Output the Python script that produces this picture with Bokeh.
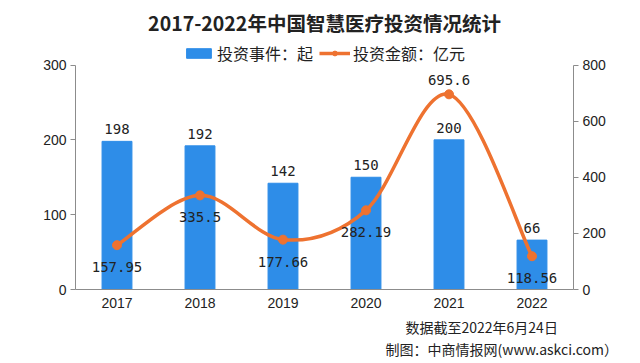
from bokeh.plotting import figure
from bokeh.models import (FactorRange, Range1d, LinearAxis, ColumnDataSource,
                          Legend, LegendItem, Title, FixedTicker)
from bokeh.core.properties import value
from bokeh.embed import file_html
from bokeh.resources import INLINE

# ---------------- data ----------------
years = ["2017", "2018", "2019", "2020", "2021", "2022"]
deals = [198, 192, 142, 150, 200, 66]
amounts = [157.95, 335.5, 177.66, 282.19, 695.6, 118.56]
amount_labels = ["157.95", "335.5", "177.66", "282.19", "695.6", "118.56"]
left_ticks = [0, 100, 200, 300]
right_ticks = [0, 200, 400, 600, 800]

title_text = "2017-2022年中国智慧医疗投资情况统计"
deal_name = "投资事件：起"
amount_name = "投资金额：亿元"
note1 = "数据截至2022年6月24日"
note2 = "制图：中商情报网(www.askci.com）"

# ---------------- style ----------------
BLUE = "#2E8DE8"
ORANGE = "#EE7230"
AXIS = "#8C8C8C"
TEXT = "#222222"

AXIS_PX = 229      # pixel height of the 0..max tick span
HEAD_PX = 24       # extra room inside the frame for the legend
lmax, rmax = left_ticks[-1], right_ticks[-1]

p = figure(width=640, height=363, x_range=FactorRange(*years),
           y_range=Range1d(0, lmax * (AXIS_PX + HEAD_PX) / AXIS_PX),
           output_backend="svg", toolbar_location=None,
           min_border_left=75, min_border_right=67, min_border_top=36,
           min_border_bottom=74)
p.extra_y_ranges = {"amt": Range1d(0, rmax * (AXIS_PX + HEAD_PX) / AXIS_PX)}
p.outline_line_color = None
p.grid.grid_line_color = None
p.background_fill_color = "white"
p.border_fill_color = "white"

# title
p.title.text = title_text
p.title.align = "center"
p.title.text_font = "Noto Sans CJK SC"
p.title.text_font_size = "19.5px"
p.title.text_font_style = "bold"
p.title.text_color = TEXT
p.title.offset = -4

# axes
for ax in (p.xaxis[0], p.yaxis[0]):
    ax.axis_line_color = AXIS
    ax.major_tick_line_color = AXIS
    ax.minor_tick_line_color = None
    ax.major_label_text_font = "Liberation Sans"
    ax.major_label_text_font_size = "14px"
    ax.major_label_text_color = TEXT
    ax.major_tick_out = 5
    ax.major_tick_in = 0
p.xaxis.major_tick_line_color = None
p.xaxis.major_tick_out = 0
p.xaxis.major_label_standoff = 8
p.yaxis.ticker = FixedTicker(ticks=left_ticks)
p.yaxis.bounds = (0, lmax)
p.yaxis.major_label_standoff = 4

rax = LinearAxis(y_range_name="amt", ticker=FixedTicker(ticks=right_ticks),
                 bounds=(0, rmax))
rax.axis_line_color = AXIS
rax.major_tick_line_color = AXIS
rax.minor_tick_line_color = None
rax.major_tick_out = 5
rax.major_tick_in = 0
rax.major_label_text_font = "Liberation Sans"
rax.major_label_text_font_size = "14px"
rax.major_label_text_color = TEXT
rax.major_label_standoff = 4
p.add_layout(rax, "right")

src = ColumnDataSource(dict(year=years, deals=deals, deal_text=[str(d) for d in deals],
                            amt=amounts, amt_text=amount_labels))

bars = p.vbar(x="year", top="deals", width=0.36, source=src, color=BLUE)

# smooth line (Catmull-Rom as cubic Bezier segments between data points)
n = len(years)
xs = [i + 0.5 for i in range(n)]
def P(i):
    i = max(0, min(n - 1, i))
    return xs[i], amounts[i]
bz = dict(x0=[], y0=[], x1=[], y1=[], cx0=[], cy0=[], cx1=[], cy1=[])
for i in range(n - 1):
    xa, ya = P(i - 1); xb, yb = P(i); xc, yc = P(i + 1); xd, yd = P(i + 2)
    bz["x0"].append(xb); bz["y0"].append(yb)
    bz["x1"].append(xc); bz["y1"].append(yc)
    bz["cx0"].append(xb + (xc - xa) / 6); bz["cy0"].append(yb + (yc - ya) / 6)
    bz["cx1"].append(xc - (xd - xb) / 6); bz["cy1"].append(yc - (yd - yb) / 6)
p.bezier(source=ColumnDataSource(bz), x0="x0", y0="y0", x1="x1", y1="y1",
         cx0="cx0", cy0="cy0", cx1="cx1", cy1="cy1", line_color=ORANGE,
         line_width=3.5, y_range_name="amt")
# zero-length line used only for the legend swatch
legend_line = p.line(x=[xs[0], xs[0]], y=[amounts[0], amounts[0]], line_color=ORANGE,
                     line_width=3.5, line_cap="butt", y_range_name="amt")
pts = p.scatter(x="year", y="amt", source=src, size=9, color=ORANGE, y_range_name="amt")

# labels
p.text(x="year", y="deals", text="deal_text", source=src, text_align="center",
       text_baseline="bottom", y_offset=-7, text_font=value("DejaVu Sans Mono"),
       text_font_size="14px", text_color=TEXT)
top_i = amounts.index(max(amounts))
src.data["off"] = [(-14 if i == top_i else 22) for i in range(n)]
p.text(x="year", y="amt", text="amt_text", source=src, text_align="center",
       text_baseline="middle", y_offset="off", text_font=value("DejaVu Sans Mono"),
       text_font_size="14px", text_color=TEXT, y_range_name="amt")

legend = Legend(items=[LegendItem(label=deal_name, renderers=[bars]),
                       LegendItem(label=amount_name, renderers=[legend_line, pts])],
                orientation="horizontal", location="top_center",
                border_line_color=None, background_fill_alpha=0,
                label_text_font="Noto Sans CJK SC", label_text_font_size="16px",
                label_text_color=TEXT, glyph_width=31, glyph_height=12,
                spacing=6, padding=0, margin=0, label_standoff=3)
p.add_layout(legend, "center")

for txt, off, sto in ((note1, 330, 8), (note2, 310, -8)):
    p.add_layout(Title(text=txt, align="left", offset=off, standoff=sto,
                       text_font="Noto Sans CJK SC", text_font_size="14px",
                       text_font_style="normal", text_color=TEXT), "below")

open("out.html", "w").write(file_html(p, INLINE))
